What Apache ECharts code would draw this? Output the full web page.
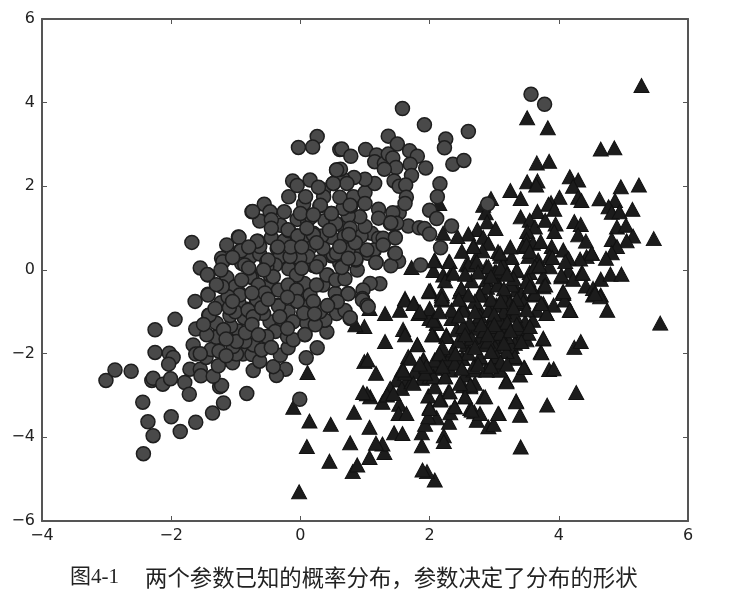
<!DOCTYPE html>
<html><head><meta charset="utf-8">
<style>html,body{margin:0;padding:0;background:#fff}#c{width:735px;height:595px;filter:blur(0.4px)}</style>
<script src="https://cdn.jsdelivr.net/npm/echarts@6/dist/echarts.min.js"></script></head>
<body><div id="c"></div><script>
const xTicks=[-4,-2,0,2,4,6];
const yTicks=[-6,-4,-2,0,2,4,6];
const caption='图4-1';
const captionBody='两个参数已知的概率分布，参数决定了分布的形状';
const circlePoints=[[-3.01,-2.64],[-2.87,-2.39],[-2.62,-2.42],[-2.30,-2.64],[-2.28,-2.59],[-2.13,-2.73],[-2.01,-2.60],[-1.79,-2.69],[-1.72,-2.97],[-2.44,-3.16],[-2.36,-3.63],[-2.28,-3.96],[-2.43,-4.39],[-2.0,-3.51],[-1.86,-3.86],[-1.62,-3.64],[-1.36,-3.42],[-1.19,-3.18],[-1.25,-2.79],[-1.22,-2.76],[-0.83,-2.95],[-0.01,-3.09],[0.09,-2.10],[0.26,-1.86],[-0.23,-2.37],[-0.37,-2.52],[-0.42,-2.31],[-0.73,-2.40],[-2.25,-1.97],[-2.03,-1.99],[-1.97,-2.09],[-2.04,-2.25],[-2.25,-1.43],[-1.94,-1.18],[-1.62,-1.41],[-1.63,-0.75],[-1.43,-0.58],[-1.66,-1.79],[-1.62,-2.01],[-1.71,-2.37],[-1.55,-2.37],[-1.54,-2.53],[-1.35,-2.54],[-1.27,-2.29],[-1.46,-2.09],[-1.38,-1.90],[-1.26,-1.94],[-1.05,-2.22],[-1.05,-1.99],[-0.89,-2.01],[-0.75,-2.02],[-0.63,-2.18],[-0.31,-2.04],[-0.19,-1.86],[0.07,-1.55],[0.41,-1.48],[-1.30,-1.61],[-0.96,-1.46],[-1.08,-1.34],[-1.30,-1.27],[-1.42,-1.08],[-1.23,-0.78],[-1.09,-1.09],[-0.87,-1.14],[-0.82,-0.94],[-0.95,-0.80],[-0.94,-0.56],[-1.14,-0.18],[-1.43,-0.12],[-0.68,-0.72],[-0.47,-0.32],[-0.34,-0.48],[-0.19,-1.0],[-0.34,-0.84],[-0.47,-1.24],[-0.29,-1.34],[-0.39,-1.47],[-0.2,-1.59],[-0.58,-1.71],[-0.73,-1.79],[-0.11,-1.24],[0.1,-1.27],[0.12,-0.88],[0.1,-0.62],[0.3,-1.0],[0.37,-1.2],[0.56,-1.04],[0.06,-0.32],[-0.16,-0.44],[0.42,-0.12],[0.54,-0.56],[0.35,-0.36],[-0.06,-0.12],[-0.47,-0.08],[-0.75,-0.18],[-1.19,-1.43],[-1.01,-1.0],[-0.57,-1.04],[-0.52,-1.59],[-0.11,-1.67],[-0.86,-1.71],[-0.99,-2.01],[-0.6,-1.91],
[0.26,3.19],[0.19,2.94],[-0.03,2.93],[-1.68,0.66],[-0.96,0.79],[-1.14,0.60],[-1.22,0.28],[-1.2,0.2],[-1.55,0.05],[-1.44,-0.11],[-1.23,0],[-0.93,0.46],[-0.91,0.16],[-0.77,0.32],[-0.63,0.38],[-0.66,0.69],[-0.45,0.77],[-0.36,0.52],[-0.25,0.70],[-0.32,0.3],[-0.18,0.03],[-0.01,0.26],[0.14,0.52],[0.2,0.11],[0.48,0.34],[0.48,0.78],[0.33,0.81],[-0.05,0.81],[-0.18,0.94],[-0.31,1.07],[-0.63,1.17],[-0.75,1.39],[-0.56,1.57],[-0.47,1.39],[-0.25,1.39],[-0.05,1.21],[0.11,1.18],[0.38,1.18],[0.55,1.11],[0.48,1.35],[0.3,1.53],[0.05,1.58],[0.08,1.75],[-0.18,1.75],[-0.12,2.13],[-0.05,2.02],[0.15,2.15],[0.36,1.91],[0.36,1.75],[0.28,1.98],[0.51,2.07],[0.56,2.39],[0.61,2.88],[-0.45,1.2],[0.17,1.27],[0,1.35],[0.2,0.88],[0.05,0.8],[-0.08,0.52],[-0.52,0.2],[-0.39,0.12],[-0.63,0.56],[-0.78,-0.16],[-0.47,-0.12],[-0.06,-0.12],[0.41,-0.12],[0.12,0.32],[0.3,0.2],[0.61,0.16],
[3.57,4.20],[3.78,3.96],[1.58,3.86],[1.92,3.47],[2.60,3.31],[2.25,3.13],[2.23,2.92],[1.36,3.2],[1.50,3.01],[0.64,2.89],[0.78,2.72],[1.01,2.88],[1.18,2.75],[1.15,2.59],[1.3,2.55],[1.36,2.77],[1.43,2.68],[1.48,2.45],[1.3,2.41],[1.69,2.85],[1.81,2.72],[1.70,2.53],[1.72,2.26],[1.94,2.44],[2.36,2.53],[2.53,2.62],[2.16,2.06],[2.12,1.75],[2.0,1.43],[2.11,1.23],[2.34,1.05],[2.9,1.58],[2.17,0.53],[1.86,0.12],[1.67,1.05],[1.84,1.01],[1.92,0.99],[2.0,0.86],[1.53,1.37],[1.43,1.37],[1.39,1.12],[1.49,1.12],[1.46,0.78],[1.46,0.4],[1.52,0.21],[1.40,0.1],[1.23,-0.33],[1.08,-0.32],[0.97,-0.48],[0.74,-0.56],[0.96,-0.68],[0.55,-0.24],[0.69,-0.21],[0.88,0],[0.65,0.08],[0.86,0.24],[1.17,0.18],[1.14,0.46],[1.04,0.4],[0.88,0.48],[0.75,0.56],[0.51,0.36],[1.10,0.88],[0.94,0.81],[1.21,0.76],[1.31,0.72],[0.66,1.04],[0.55,1.11],[1.0,1.04],[0.92,1.27],[1.21,1.45],[1.21,1.24],[0.74,1.29],[0.78,1.53],[0.66,1.47],[0.82,1.75],[1.0,1.85],[0.61,1.74],[1.0,1.59],[1.15,2.07],[1.0,2.17],[0.83,2.21],[0.66,2.17],[0.72,2.07],[0.51,2.07],[0.62,2.41],[0.56,2.39],[1.45,2.13],[1.53,2.0],[1.63,2.03],[1.64,1.74],[1.62,1.59],[0.48,1.35],
[0.77,-1.16],[0.74,-0.57],[0.96,-0.72],[1.03,-0.84],[0.69,-0.97],[0.56,-0.76],[0.38,-1.2],[0.3,-1.0],[0.07,-1.54],
[0.31,1.55],[-0.74,1.40],[0.77,1.55],[1.4,1.13],[-0.19,0.96],[-0.04,0.81],[0.2,0.84],[-0.67,0.69],[-0.95,0.78],[-0.92,0.46],[-0.01,0.28],[0.64,0.06],[0.86,0.26],[0.74,0.49],[1.14,0.48],[1.28,0.76],[1.47,0.77],[1.47,0.4],[1.17,0.18],[1.05,-0.88],[0.57,-0.76],[0.77,-1.14],[0.11,-0.88],[-0.34,-0.86],[-0.67,-0.73],[-0.81,-0.96],[-1.43,-0.6],[-1.41,-1.08],[-1.01,-0.4],[-0.91,-0.24],[-0.65,-0.36],[-0.86,0.12],[-0.52,0.08],[-0.42,-0.16],[-0.19,-0.36],[-0.06,-0.48],[0.15,-0.6],[0.25,-0.36],[-0.94,-0.6],[-1.12,-0.64],[-1.32,-0.92],[-0.73,-1.12],[-0.32,-1.12],[0.05,-1.03],[0.23,-1.31],[-1.04,-1.83],[-0.99,-1.71],[0.25,0.08],[0.02,0.04],[0.68,0.8],[0.77,1.0],[0.2,1.32],[-0.5,0.24],[-0.16,0.32],[-0.57,0],[0.35,0.52],[0.56,0.4],[0.74,0.28],[1.03,0.48],[1.28,0.6],[0.61,0.56],[-1.21,-0.4],[-1.1,-0.9],[-0.55,-0.55],[-0.05,-0.75],[0.42,-0.85],[-0.8,0.05],[0.45,0.95],[0.85,0.65],[-0.15,0.55],[-0.85,-1.5],[-1.15,-2.05],[-0.45,-1.85],[-1.45,-1.55],[-1.5,-1.3],[-1.55,-2.0],
[-1.3,-0.35],[-1.05,-0.75],[-0.75,-0.55],[-0.6,-0.9],[-0.2,-0.65],[-0.75,-1.3],[-0.2,-1.4],[0.2,-0.75],[-0.35,0.55],[0.02,0.55],[0.25,0.65],[0.75,0.85],[-0.8,0.55],[-1.05,0.3],[0.1,1.0],[-0.45,1.0],[-1.15,-1.65],[-0.65,-1.55],[-0.5,-0.7],[0.22,-1.05]];
const trianglePoints=[[5.28,4.41],[3.51,3.64],[3.83,3.40],[4.65,2.89],[4.86,2.92],[3.66,2.56],[3.85,2.60],[4.17,2.23],[4.3,2.15],[4.22,2.0],[3.51,2.11],[3.67,2.13],[3.65,2.03],[3.25,1.9],[3.41,1.71],[4.96,1.99],[5.24,2.03],[4.3,1.74],[4.35,1.66],[4.01,1.74],[3.88,1.61],[3.84,1.57],[3.93,1.45],[4.63,1.70],[4.87,1.66],[4.77,1.51],[4.82,1.38],[4.94,1.39],[5.14,1.45],[4.9,1.03],[5.04,1.07],[5.47,0.75],[5.15,0.81],[5.05,0.70],[4.82,0.73],[4.9,0.56],[4.82,0.41],[4.73,0.28],[2.95,1.71],[2.83,1.55],[2.87,1.37],[2.89,1.15],[3.02,0.99],[2.74,0.97],[2.6,0.86],[2.43,0.80],[2.21,0.88],[2.15,1.59],[2.83,0.78],[2.68,0.58],[2.91,0.64],[2.82,0.46],[3.06,0.44],[3.1,0.32],[3.27,0.3],[3.41,1.27],[3.67,1.4],[3.55,1.19],[3.63,1.03],[3.79,1.19],[3.51,0.92],[3.5,0.72],[3.44,0.56],[3.6,0.64],[3.72,0.68],[3.95,1.1],[3.93,0.92],[4.24,1.16],[4.34,1.09],[4.3,0.84],[4.42,0.69],[3.89,0.56],[4.07,0.48],[4.51,0.4],[4.43,0.32],[4.33,0.26],[4.15,0.28],[3.86,0.33],[3.68,0.24],[3.53,0.32],[2.08,0.24],[2.3,0.2],[1.72,0.06],[2.57,0.14],[2.70,0.24],[2.06,-0.01],[2.34,-0.06],[2.21,-0.12],[2.24,-0.26],[2.88,0.08],[3.01,-0.04],[3.14,0.12],[3.35,-0.02],[3.55,-0.06],[3.86,0.08],[3.76,-0.16],[4.15,-0.02],[4.35,-0.08],[4.04,-0.16],[4.22,-0.22],[4.65,-0.22],[4.8,-0.1],[4.97,-0.1],[4.42,-0.38],[4.53,-0.44],[4.65,-0.6],[4.06,-0.53],[2.01,-0.49],[2.19,-0.62],[2.49,-0.45],[2.65,-0.26],[2.88,-0.24],[3.06,-0.33],[3.35,-0.48],[3.53,-0.24],[3.76,-0.4],[3.61,-0.56],[2.78,-0.56],[1.62,-0.68],[3.19,-0.6],
[-0.02,-5.30],[2.08,-5.02],[1.96,-4.82],[1.89,-4.78],[0.45,-4.57],[0.81,-4.82],[0.88,-4.66],[1.07,-4.48],[1.30,-4.36],[1.27,-4.16],[1.17,-4.14],[0.77,-4.13],[0.10,-4.22],[1.88,-4.2],[2.22,-3.96],[2.22,-4.10],[3.41,-4.23],[1.88,-3.89],[1.93,-3.69],[1.45,-3.89],[1.58,-3.91],[1.07,-3.76],[0.47,-3.69],[0.14,-3.61],[-0.11,-3.28],[0.11,-2.45],[0.83,-3.4],[1.27,-3.16],[1.08,-3.03],[1.03,-2.96],[0.97,-2.93],[1.53,-3.21],[1.52,-3.43],[1.64,-3.43],[2.0,-3.28],[2.11,-3.53],[1.98,-3.51],[2.30,-3.64],[2.39,-3.27],[2.32,-3.41],[2.63,-3.31],[2.69,-3.39],[2.73,-3.59],[2.78,-3.43],[2.91,-3.75],[2.99,-3.69],[3.07,-3.43],[3.34,-3.13],[3.4,-3.47],[3.82,-3.23],[4.27,-2.93],[2.83,-3.03],[2.55,-3.03],[2.17,-3.09],[1.98,-3.01],[2.29,-2.91],[2.08,-2.79],[2.63,-2.79],[2.52,-2.77],[3.19,-2.65],[3.4,-2.51],[3.47,-2.33],[3.85,-2.38],[3.92,-2.36],[4.24,-1.85],[4.34,-1.71],[3.76,-1.65],[3.72,-1.96],[3.5,-1.67],[1.31,-1.71],[1.81,-1.78],[1.59,-1.42],[1.62,-1.55],[0.99,-2.19],[1.04,-2.15],[1.17,-2.47],[1.31,-1.04],[0.99,-1.35],[0.85,-1.31],[1.07,-0.92],[1.54,-0.96],[1.62,-0.72],[1.76,-0.8],[1.83,-1.04],[2.0,-0.96],[2.19,-0.72],[2.0,-0.52],[2.19,-0.57],[2.47,-0.52],[1.67,-2.07],[1.9,-2.15],[1.8,-2.39],[1.57,-2.39],[1.65,-2.63],[1.49,-2.63],[1.57,-2.83],[1.39,-2.83],[1.34,-2.99],[1.44,-2.95],[1.72,-2.67],[1.88,-2.59],[2.0,-2.55],[2.11,-2.15],[2.08,-2.35],[2.24,-2.55],[2.24,-2.15],[2.37,-1.91],[2.51,-2.11],[2.32,-2.39],[2.55,-2.51],[2.70,-2.71],[2.68,-2.39],[2.88,-2.39],[2.78,-2.11],[3.01,-2.11],[3.09,-2.39],[3.32,-2.11],[3.22,-1.91],[3.04,-1.75],[2.78,-1.59],[2.57,-1.79],[2.26,-1.55],[2.06,-1.55],[2.11,-1.28],[2.34,-1.16],[2.52,-0.88],[2.78,-0.96],[2.65,-1.39],[2.93,-1.28],[3.14,-1.39],[3.4,-1.51],[3.48,-1.24],[3.22,-1.04],[3.42,-0.8],[3.63,-0.6],[3.76,-0.8],[3.81,-1.04],[3.92,-0.84],[4.18,-0.97],[4.07,-0.56],[4.09,-0.72],[4.53,-0.6],[4.64,-0.64],[4.75,-0.96],[3.04,-0.84],[2.83,-0.6],[3.14,-0.64],[3.42,-0.56],[3.66,-0.96],[3.32,-1.75],[2.96,-1.52],[2.42,-1.43],[2.34,-0.96],[2.73,-1.24],[2.0,-1.16],[5.57,-1.27],
[2.07,0.22],[2.31,0.2],[2.37,-0.08],[2.6,0.12],[2.73,0.2],[2.68,0.56],[3.09,0.4],[3.5,0.6],[3.63,0.08],[4.51,0.4],[3.35,0],[2.91,0.08],[3.03,-0.04],[2.49,-0.44],[2.89,-0.41],[3.05,-0.36],[3.27,-0.36],[3.5,-0.28],[3.63,-0.56],[3.79,-0.36],[4.04,-0.12],[4.37,-0.08],[4.56,-0.56],[4.07,-0.52],[4.17,-0.96],[3.81,-1.04],[3.76,-1.63],[3.73,-1.98],[3.46,-2.33],[3.19,-2.67],[3.09,-2.39],[2.88,-2.39],[2.78,-2.07],[2.5,-2.11],[2.28,-2.15],[1.91,-2.15],[1.75,-0.8],[1.99,-0.5],[2.19,-0.68],[2.0,-0.92],[1.85,-1.0],[1.81,-1.79],[2.04,-1.55],[2.06,-1.2],[2.52,-0.96],[2.78,-0.6],[3.01,-0.84],[3.24,-0.8],[3.45,-0.76],[3.73,-0.8],[2.26,-1.59],[2.37,-1.91],[2.65,-1.63],[2.94,-1.35],[3.09,-1.2],[3.27,-1.83],[3.4,-1.39],[3.53,-1.51],[3.42,-1.71],[3.19,-1.59],[3.01,-1.83],[3.32,-2.07],[2.62,-1.27],[2.78,-1.1],[2.52,-1.35],[2.91,-0.96],[3.32,-1.08],[3.09,-1.51],[2.83,-1.79],[2.6,-1.99],[3.19,-1.95],[3.04,-2.07],[2.08,-2.15],[1.77,-2.43],[1.62,-2.47],[2.06,-2.55],[2.24,-2.55],[2.63,-2.75],[2.86,-3.03],[2.55,-3.03],[2.16,-3.11],[2.31,-2.91],[2.39,-3.27],[2.65,-3.35],[3.06,-3.43],[3.34,-3.15],[2.0,-3.31],[1.7,-2.11],[1.59,-2.39],[1.75,-2.71],[1.93,-2.47],[2.47,-2.71],[2.39,-2.23],[2.68,-2.31],[3.15,-1.0],[3.0,-1.05],[2.45,-1.1],[2.85,-1.45],[3.2,-1.25],[2.9,-1.7],[2.45,-1.7],[3.35,-1.3],[3.6,-1.2],[2.7,-0.75],[3.3,-0.2],[3.1,0.05],[2.55,-0.1],[3.9,0.3],[3.7,0.1],[4.1,0.2],[2.5,0.45],[3.25,0.55],[3.55,0.45],
[2.6,-0.6],[2.95,-0.7],[3.15,-0.45],[3.35,-0.7],[3.55,-0.4],[2.7,-1.0],[3.0,-1.3],[3.25,-1.45],[2.8,-1.3],[2.55,-1.55],[2.9,-1.55],[3.15,-1.75],[2.7,-1.85],[2.95,-1.95],[2.4,-2.0],[3.1,-2.2],[2.75,-2.25],[2.5,-2.35],[2.2,-1.85],[2.15,-1.0],[3.5,-0.95],[3.3,-0.9],[3.55,-1.35],[3.1,-0.75],[2.45,-0.7],[2.95,-0.15],[2.75,-0.05],[3.2,-0.1],[2.15,-2.0],[1.95,-2.3],[2.2,-2.3],[1.85,-2.25],[2.95,-2.3],[3.2,-2.25]];
const frame='#555';
const fmt=v=>String(v).replace('-','\u2212');
const chart=echarts.init(document.getElementById('c'),null,{renderer:'canvas'});
const tick={show:true,inside:true,length:5,lineStyle:{color:frame,width:1}};
const line={show:true,onZero:false,lineStyle:{color:frame,width:2}};
const lab={show:true,color:'#222',fontSize:16,fontFamily:'"DejaVu Sans",sans-serif',formatter:fmt,margin:7,showMinLabel:true,showMaxLabel:true};
chart.setOption({
 animation:false,backgroundColor:'#fff',
 title:[
  {text:caption,left:65,top:562,textStyle:{fontSize:21,fontWeight:'normal',color:'#222',fontFamily:'"Liberation Serif","Noto Sans CJK SC",serif'}},
  {text:captionBody,left:140,top:561,textStyle:{fontSize:22.4,fontWeight:'normal',color:'#222',fontFamily:'"Noto Sans CJK SC",serif'}}
 ],
 grid:{left:42,top:19,width:646,height:502,containLabel:false},
 xAxis:[
  {type:'value',position:'bottom',min:xTicks[0],max:xTicks[xTicks.length-1],interval:2,axisLine:line,axisTick:tick,axisLabel:lab,splitLine:{show:false}},
  {type:'value',position:'top',min:xTicks[0],max:xTicks[xTicks.length-1],interval:2,axisLine:line,axisTick:tick,axisLabel:{show:false},splitLine:{show:false}}
 ],
 yAxis:[
  {type:'value',position:'left',min:yTicks[0],max:yTicks[yTicks.length-1],interval:2,axisLine:line,axisTick:tick,axisLabel:lab,splitLine:{show:false}},
  {type:'value',position:'right',min:yTicks[0],max:yTicks[yTicks.length-1],interval:2,axisLine:line,axisTick:tick,axisLabel:{show:false},splitLine:{show:false}}
 ],
 series:[
  {type:'scatter',name:'triangle',data:trianglePoints,symbol:'triangle',symbolSize:[15,14],itemStyle:{color:'#1c1c1c',borderColor:'#111',borderWidth:1,opacity:1}},
  {type:'scatter',name:'circle',data:circlePoints,symbol:'circle',symbolSize:14,itemStyle:{color:'#494949',borderColor:'#1e1e1e',borderWidth:1.5,opacity:1}}
 ]
});
</script></body></html>
